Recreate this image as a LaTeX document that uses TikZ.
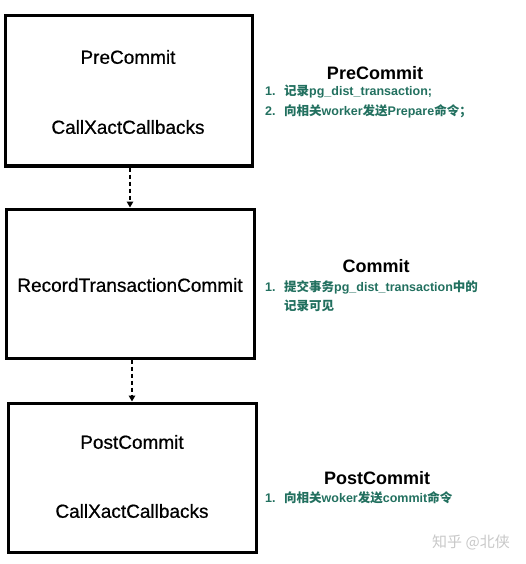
\documentclass[tikz,border=0pt]{standalone}
\usepackage{fontspec}
\setmainfont{Liberation Sans}
\newfontfamily\boxfont[FakeBold=0.6]{Liberation Sans}
\newfontfamily\cjk{Noto Sans CJK SC}
\usetikzlibrary{arrows.meta}
\definecolor{notecol}{HTML}{22705F}
\definecolor{markcol}{HTML}{C8C8C8}
\tikzset{
  box/.style={draw, line width=3pt, inner sep=0pt},
  boxtext/.style={inner sep=0pt, font=\fontsize{19}{22}\boxfont},
  head/.style={inner sep=0pt, font=\fontsize{18}{21}\selectfont\bfseries},
  note/.style={anchor=base west, inner sep=0pt, text=notecol, font=\fontsize{12.5}{15}\selectfont\bfseries},
  flow/.style={-{Triangle[length=6pt,width=6.5pt]}, line width=2pt, dash pattern=on 4pt off 3pt},
  wmark/.style={inner sep=0pt, text=markcol, font=\fontsize{15}{18}\selectfont\cjk}
}
\newcommand{\num}[1]{\makebox[19pt][l]{#1}}
\begin{document}
\begin{tikzpicture}[x=1pt,y=1pt]
\useasboundingbox (0,0) rectangle (526,-564);
% boxes
\node[box, minimum width=247pt, minimum height=150pt] (b1) at (129,-91) {};
\node[box, minimum width=248pt, minimum height=149pt] (b2) at (130,-283.5) {};
\node[box, minimum width=248pt, minimum height=149pt] (b3) at (132,-477.5) {};
% box texts
\node[boxtext] (t1a) at (128,-57) {PreCommit};
\node[boxtext] (t1b) at (128,-127) {CallXactCallbacks};
\node[boxtext] (t2) at (130,-285) {RecordTransactionCommit};
\node[boxtext] (t3a) at (132,-442) {PostCommit};
\node[boxtext] (t3b) at (132,-511) {CallXactCallbacks};
% connectors
\draw[flow] (b1.south -| b2.north) -- (b2.north);
\draw[flow] (b2.south -| b3.north) -- (b3.north);
% notes
\node[head] (h1) at (375,-73) {PreCommit};
\node[note] (n1a) at (265,-96) {\num{1.}{\cjk 记录}pg\_dist\_transaction;};
\node[note] (n1b) at (265,-116) {\num{2.}{\cjk 向相关}worker{\cjk 发送}Prepare{\cjk 命令；}};
\node[head] (h2) at (376,-266) {Commit};
\node[note] (n2a) at (265,-291) {\num{1.}{\cjk 提交事务}pg\_dist\_transaction{\cjk 中的}};
\node[note] (n2b) at (284,-310) {{\cjk 记录可见}};
\node[head] (h3) at (377,-478) {PostCommit};
\node[note] (n3a) at (265,-502) {\num{1.}{\cjk 向相关}woker{\cjk 发送}commit{\cjk 命令}};
\node[wmark] (wm) at (471,-542) {知乎 @北侠};
\end{tikzpicture}
\end{document}
